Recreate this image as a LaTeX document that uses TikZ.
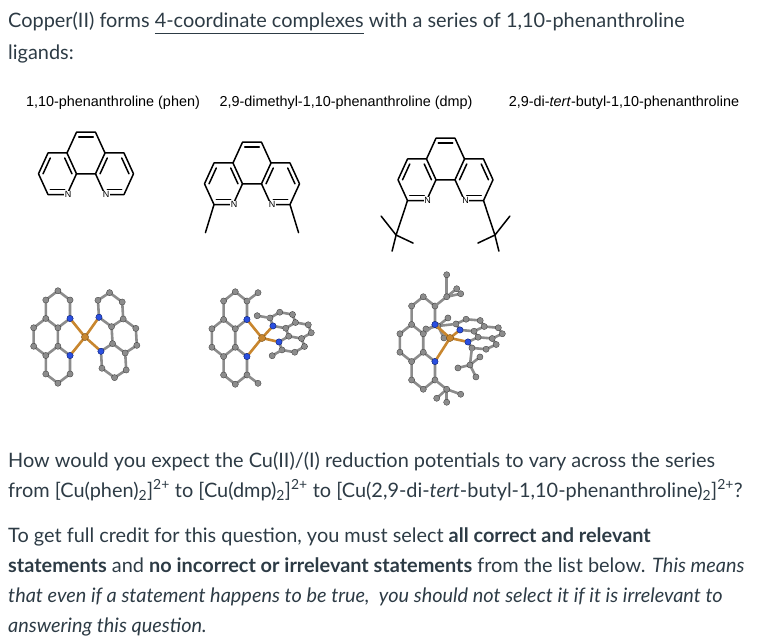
\documentclass[tikz,border=0pt]{standalone}
\usepackage{fontspec}
\setmainfont{Lato}
\newfontfamily\labfont{Liberation Sans}
\usetikzlibrary{calc}
\definecolor{txt}{HTML}{2D3B45}
\definecolor{cuc}{HTML}{C8862E}
\definecolor{nblue}{HTML}{2A4FE0}
\definecolor{cgray}{HTML}{8C8C8C}
\newcommand\phenpts[1]{%
 \coordinate (#1m1) at (1,0); \coordinate (#1m2) at (.5,.866); \coordinate (#1m3) at (-.5,.866);
 \coordinate (#1m4) at (-1,0); \coordinate (#1m5) at (-.5,-.866); \coordinate (#1m6) at (.5,-.866);
 \coordinate (#1r1) at (2,0); \coordinate (#1r2) at (2.5,-.866); \coordinate (#1r3) at (2,-1.732); \coordinate (#1nr) at (1,-1.732);
 \coordinate (#1l1) at (-2,0); \coordinate (#1l2) at (-2.5,-.866); \coordinate (#1l3) at (-2,-1.732); \coordinate (#1nl) at (-1,-1.732);
 \coordinate (#1cm) at (0,0); \coordinate (#1cr) at (1.5,-.866); \coordinate (#1cl) at (-1.5,-.866);}
\newcommand\phenbonds[2]{%
 \draw[#2] (#1m1)--(#1m2)--(#1m3)--(#1m4)--(#1m5)--(#1m6)--cycle;
 \draw[#2] (#1m1)--(#1r1)--(#1r2)--(#1r3)--(#1nr)--(#1m6);
 \draw[#2] (#1m4)--(#1l1)--(#1l2)--(#1l3)--(#1nl)--(#1m5);}
\newcommand\dbl[4]{\draw[bond] ($(#1#2)!.24!(#1#4)$)--($(#1#3)!.24!(#1#4)$);}
\newcommand\phenstruct[3]{%
 \begin{scope}[xshift=#2pt,yshift=-#3pt,x={(19pt,0pt)},y={(0pt,24pt)}]
 \phenpts{#1}
 \coordinate (#1sr) at (2.45,-2.9); \coordinate (#1sl) at (-2.45,-2.9);
 \coordinate (#1qr) at (2.6,-3.17); \coordinate (#1ql) at (-2.6,-3.17);
 \phenbonds{#1}{bond}
 \dbl{#1}{m2}{m3}{cm}\dbl{#1}{m1}{m6}{cr}\dbl{#1}{m4}{m5}{cl}
 \dbl{#1}{r1}{r2}{cr}\dbl{#1}{l1}{l2}{cl}\dbl{#1}{r3}{nr}{cr}\dbl{#1}{l3}{nl}{cl}
 \node[nlab] (#1N1) at (#1nr) {N};
 \node[nlab] (#1N2) at (#1nl) {N};
 \end{scope}}
\newcommand\phenball[7]{%
 \begin{scope}[xshift=#4pt,yshift=-#5pt,x={#2},y={#3}]
 \phenpts{#1}
 \coordinate (#1sr) at (#6,#7); \coordinate (#1sl) at (-#6,#7);
 \phenbonds{#1}{stick}
 \foreach \a in {m1,m2,m3,m4,m5,m6,r1,r2,r3,l1,l2,l3} {\fill[ball] (#1\a) circle (\br);}
 \fill[nball] (#1nr) circle (\br); \fill[nball] (#1nl) circle (\br);
 \end{scope}}
\def\br{3.1pt}
\tikzset{
 bond/.style={line width=1.5pt, line cap=round, line join=round},
 nlab/.style={font=\labfont\fontsize{9}{9}\selectfont, fill=white, inner sep=0.6pt, xshift=1pt},
 stick/.style={line width=2.6pt, draw=cgray, line join=round},
 ball/.style={fill=cgray, draw=gray!40!black, line width=0.3pt},
 nball/.style={fill=nblue, draw=nblue!50!black, line width=0.3pt},
 cuball/.style={fill=cuc, draw=cuc!50!black, line width=0.3pt},
 custick/.style={line width=2.6pt, draw=cuc},
 body/.style={anchor=base west, inner sep=0, text=txt, font=\fontsize{19.9}{24}\selectfont},
 lab/.style={anchor=base, inner sep=0, text=black, font=\labfont\fontsize{14.4}{16}\selectfont},
}
\begin{document}
\begin{tikzpicture}[x=1pt,y=-1pt]
\useasboundingbox (0,0) rectangle (763,644);
\node[body] (h1) at (8,28) {Copper(II) forms \underline{4-coordinate complexes} with a series of 1,10-phenanthroline};
\node[body] (h2) at (8,60) {ligands:};
\node[lab] (l1) at (113,107) {1,10-phenanthroline (phen)};
\node[lab] (l2) at (346,107) {2,9-dimethyl-1,10-phenanthroline (dmp)};
\node[lab] (l3) at (624,107) {2,9-di-\textit{tert}-butyl-1,10-phenanthroline};
% structures
\phenstruct{a}{86}{153}
\phenstruct{b}{252}{163}
\draw[bond] (br3)--(bsr); \draw[bond] (bl3)--(bsl);
\phenstruct{c}{445.5}{159}
\draw[bond] (cr3)--(cqr); \draw[bond] (cl3)--(cql);
\draw[bond] (cqr)--++(15,-19); \draw[bond] (cqr)--++(-17,8); \draw[bond] (cqr)--++(4,16);
\draw[bond] (cql)--++(-15,-19); \draw[bond] (cql)--++(17,8); \draw[bond] (cql)--++(-4,16);
% model 1
\coordinate (cu1) at (85,337);
\phenball{p}{(0pt,-18.5pt)}{(-14pt,0pt)}{45.8}{337}{2.5}{-2.6}
\phenball{q}{(1pt,-17pt)}{(14pt,-1pt)}{124.2}{336}{2.5}{-2.6}
\draw[custick] (cu1)--(pnr); \draw[custick] (cu1)--(pnl); \draw[custick] (cu1)--(qnr); \draw[custick] (cu1)--(qnl);
\fill[nball] (pnr) circle (\br); \fill[nball] (pnl) circle (\br); \fill[nball] (qnr) circle (\br); \fill[nball] (qnl) circle (\br);
\fill[cuball] (cu1) circle (3.6pt);
% model 2
\coordinate (cu2) at (262,338);
\phenball{s}{(3pt,-8pt)}{(13pt,2pt)}{298.5}{330.5}{2.5}{-2.6}
\draw[stick] (sr3)--(ssr); \draw[stick] (sl3)--(ssl);
\fill[ball] (ssr) circle (\br); \fill[ball] (ssl) circle (\br);
\phenball{r}{(0pt,-18.5pt)}{(-13.5pt,0pt)}{223.6}{338}{2.45}{-2.55}
\draw[stick] (rr3)--(rsr); \draw[stick] (rl3)--(rsl);
\fill[ball] (rsr) circle (\br); \fill[ball] (rsl) circle (\br);
\draw[custick] (cu2)--(rnr); \draw[custick] (cu2)--(rnl); \draw[custick] (cu2)--(snr); \draw[custick] (cu2)--(snl);
\fill[nball] (rnr) circle (\br); \fill[nball] (rnl) circle (\br); \fill[nball] (snr) circle (\br); \fill[nball] (snl) circle (\br);
\fill[cuball] (cu2) circle (3.6pt);
% model 3
\coordinate (cu3) at (450,338);
\phenball{u}{(4pt,-6pt)}{(14pt,2pt)}{488.2}{332.5}{2.6}{-2.6}
\foreach \c/\dx/\dy in {ur3/-2/17, ul3/-18/2}{
  \coordinate (t\c) at ($(\c)+(\dx,\dy)$);
  \draw[stick] (\c)--(t\c);
  \foreach \ex/\ey in {-12/3, 6/12, 10/-8}{\draw[stick] (t\c)--++(\ex,\ey); \fill[ball] ($(t\c)+(\ex,\ey)$) circle (\br);}
  \fill[ball] (t\c) circle (\br);}
\phenball{t}{(0pt,-18.5pt)}{(-13.5pt,0pt)}{411.6}{343}{2.5}{-2.6}
\draw[stick] (tr3)--(tsr); \draw[stick] (tl3)--(tsl);
\foreach \e/\ex/\ey in {tsr/0/13, tsr/14/5, tsr/-10/9, tsl/0/-22, tsl/14/-3, tsl/10/-8}{\draw[stick] (\e)--++(\ex,\ey); \fill[ball] ($(\e)+(\ex,\ey)$) circle (\br);}
\fill[ball] (tsr) circle (\br); \fill[ball] (tsl) circle (\br);
\draw[custick] (cu3)--(tnr); \draw[custick] (cu3)--(tnl); \draw[custick] (cu3)--(unr); \draw[custick] (cu3)--(unl);
\fill[nball] (tnr) circle (\br); \fill[nball] (tnl) circle (\br); \fill[nball] (unr) circle (\br); \fill[nball] (unl) circle (\br);
\fill[cuball] (cu3) circle (3.6pt);
% question text
\node[body] (b1) at (8,467) {How would you expect the Cu(II)/(I) reduction potentials to vary across the series};
\node[body] (b2) at (8,497) {from [Cu(phen)\textsubscript{2}]\textsuperscript{2+} to [Cu(dmp)\textsubscript{2}]\textsuperscript{2+} to [Cu(2,9-di-\textit{tert}-butyl-1,10-phenanthroline)\textsubscript{2}]\textsuperscript{2+}?};
\node[body] (b3) at (8,542) {To get full credit for this question, you must select \textbf{all correct and relevant}};
\node[body] (b4) at (8,572) {\textbf{statements} and \textbf{no incorrect or irrelevant statements} from the list below. \textit{This means}};
\node[body] (b5) at (8,602) {\textit{that even if a statement happens to be true,~ you should not select it if it is irrelevant to}};
\node[body] (b6) at (8,632) {\textit{answering this question.}};
\end{tikzpicture}
\end{document}
